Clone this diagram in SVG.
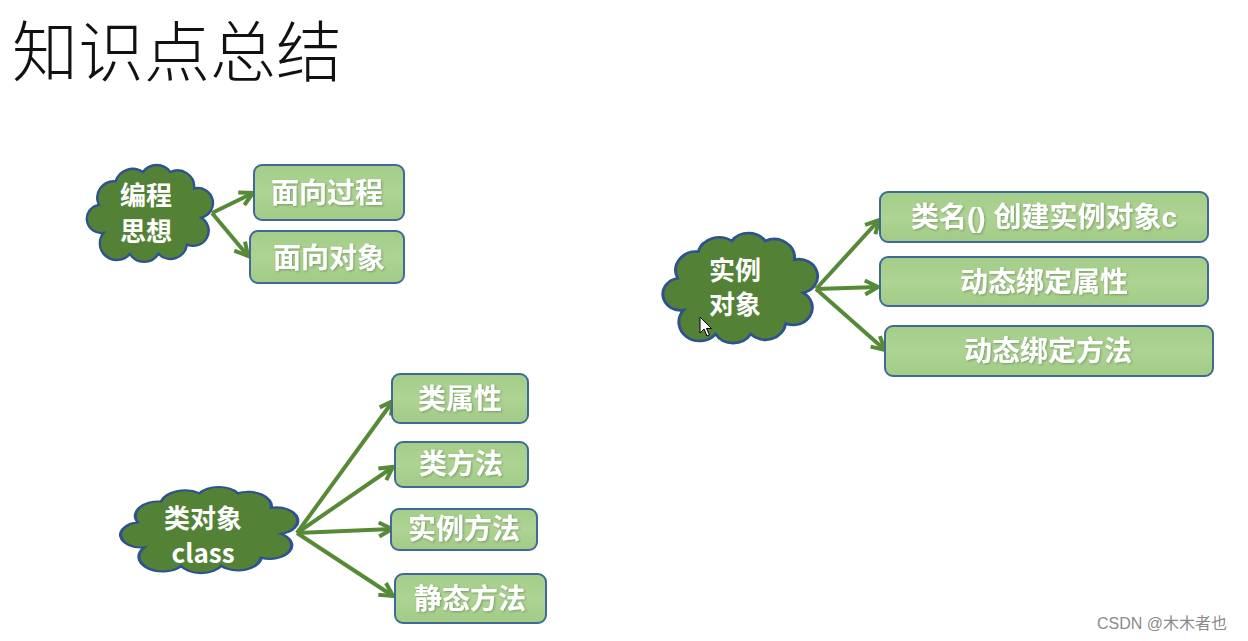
<svg xmlns="http://www.w3.org/2000/svg" xmlns:xlink="http://www.w3.org/1999/xlink" width="1248" height="641" viewBox="0 0 1248 641">
<style>
.title{font-family:"Noto Sans CJK SC","Noto Sans",sans-serif;font-size:66px;font-weight:300;fill:#111;}
.cloud{fill:#538135;stroke:#2f528f;stroke-width:2;}
.ctext{font-family:"Noto Sans CJK SC","Noto Sans",sans-serif;font-size:26px;font-weight:bold;fill:#ffffff;text-anchor:middle;}
.box{fill:url(#boxg);stroke:#3f6a95;stroke-width:2;}
.btext{font-family:"Liberation Sans","Noto Sans CJK SC",sans-serif;font-size:28px;font-weight:bold;fill:#ffffff;text-anchor:middle;filter:url(#ts);}
.conn{stroke:#578a37;stroke-width:4;fill:none;marker-end:url(#arr);}
.wm{font-family:"Liberation Sans","Noto Sans CJK SC",sans-serif;font-size:16px;fill:#8a8a8a;}
</style>
<defs>
<linearGradient id="boxg" x1="0" y1="0" x2="0" y2="1">
<stop offset="0" stop-color="#a3cd88"/>
<stop offset="0.5" stop-color="#aed394"/>
<stop offset="1" stop-color="#a1cb86"/>
</linearGradient>
<filter id="ts" x="-10%" y="-20%" width="120%" height="140%">
<feDropShadow dx="1" dy="1" stdDeviation="0.8" flood-color="#3a5a2a" flood-opacity="0.45"/>
</filter>
<marker id="arr" markerUnits="userSpaceOnUse" viewBox="0 0 20 20" markerWidth="20" markerHeight="20" refX="16" refY="10" orient="auto">
<path d="M3,3 L16,10 L3,17" fill="none" stroke="#578a37" stroke-width="4" stroke-linejoin="miter" stroke-linecap="butt"/>
</marker>
<path id="cloudShape" d="M12,58 A12,12 0 0 1 8,34 A14,14 0 0 1 22,14 A15,15 0 0 1 45,6 A14,14 0 0 1 68,6 A14,14 0 0 1 88,20 A12,12 0 0 1 94,45 A13,13 0 0 1 82,68 A14,14 0 0 1 58,76 A14,14 0 0 1 34,76 A13,13 0 0 1 12,58 Z"/>
</defs>
<rect x="0" y="0" width="1248" height="641" fill="#ffffff"/>
<text class="title" x="12" y="76">知识点总结</text>

<g id="connectors">
<line class="conn" x1="212" y1="213" x2="253" y2="193"/>
<line class="conn" x1="212" y1="213" x2="248" y2="256"/>
<line class="conn" x1="816" y1="289" x2="879" y2="220"/>
<line class="conn" x1="816" y1="289" x2="878" y2="287"/>
<line class="conn" x1="816" y1="289" x2="885" y2="350"/>
<line class="conn" x1="297" y1="533" x2="393" y2="401"/>
<line class="conn" x1="297" y1="533" x2="393" y2="467"/>
<line class="conn" x1="297" y1="533" x2="392" y2="529"/>
<line class="conn" x1="297" y1="533" x2="393" y2="596"/>
</g>

<g id="node-bianchengsixiang">
<use href="#cloudShape" class="cloud" transform="translate(89.4,165) scale(1.19,1.17)" vector-effect="non-scaling-stroke"/>
<text class="ctext" x="146" y="205">编程</text>
<text class="ctext" x="146" y="241">思想</text>
</g>

<g id="node-shiliduixiang">
<use href="#cloudShape" class="cloud" transform="translate(666,233) scale(1.46,1.33)" vector-effect="non-scaling-stroke"/>
<text class="ctext" x="735" y="280">实例</text>
<text class="ctext" x="735" y="314">对象</text>
</g>

<g id="node-leiduixiang">
<use href="#cloudShape" class="cloud" transform="translate(124.3,487) scale(1.67,1.04)" vector-effect="non-scaling-stroke"/>
<text class="ctext" x="203" y="528">类对象</text>
<text class="ctext" x="203" y="563" font-family="Liberation Sans, sans-serif">class</text>
</g>

<g id="node-mianxiangguocheng">
<rect class="box" x="254" y="165" width="150" height="55" rx="8"/>
<text class="btext" x="327" y="203">面向过程</text>
</g>
<g id="node-mianxiangduixiang">
<rect class="box" x="250" y="231" width="154" height="52" rx="8"/>
<text class="btext" x="329" y="268">面向对象</text>
</g>

<g id="node-chuangjian">
<rect class="box" x="880" y="192" width="328" height="50" rx="8"/>
<text class="btext" x="1044" y="227">类名() 创建实例对象c</text>
</g>
<g id="node-dongtaishuxing">
<rect class="box" x="880" y="257" width="328" height="49" rx="8"/>
<text class="btext" x="1044" y="292">动态绑定属性</text>
</g>
<g id="node-dongtaifangfa">
<rect class="box" x="885" y="326" width="328" height="50" rx="8"/>
<text class="btext" x="1048" y="361">动态绑定方法</text>
</g>

<g id="node-leishuxing">
<rect class="box" x="392" y="374" width="136" height="49" rx="8"/>
<text class="btext" x="460" y="409">类属性</text>
</g>
<g id="node-leifangfa">
<rect class="box" x="395" y="442" width="133" height="45" rx="8"/>
<text class="btext" x="461" y="474">类方法</text>
</g>
<g id="node-shilifangfa">
<rect class="box" x="391" y="509" width="146" height="41" rx="8"/>
<text class="btext" x="464" y="539">实例方法</text>
</g>
<g id="node-jingtaifangfa">
<rect class="box" x="395" y="574" width="151" height="49" rx="8"/>
<text class="btext" x="470" y="609">静态方法</text>
</g>

<polygon points="700,317 700,333 704,329 707,336 709.5,335 706.5,328.5 711.5,328.5" fill="#ffffff" stroke="#000000" stroke-width="1"/>

<text class="wm" x="1097" y="629">CSDN @木木者也</text>
</svg>
